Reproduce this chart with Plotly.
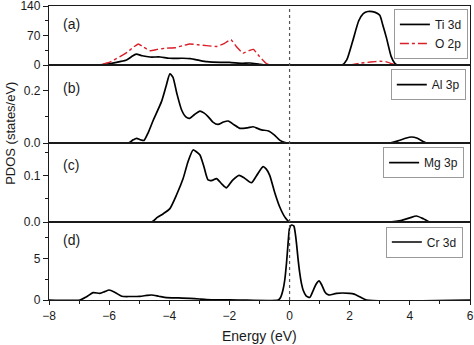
import plotly.graph_objects as go
from plotly.subplots import make_subplots

# ---------------- data ----------------
ti3d_E = [-8, -6.4, -6.0, -5.64, -5.42, -5.25, -5.1, -4.9, -4.64, -4.3, -4.0, -3.55, -3.3, -3.0,
          -2.75, -2.3, -2.0, -1.57, -1.32, -1.0, -0.8, 1.75, 1.9, 2.1, 2.3, 2.45, 2.6, 2.85, 3.0,
          3.1, 3.22, 3.38, 3.5, 3.6, 6]
ti3d_v = [0, 0, 3, 8, 12, 20, 26, 22, 19, 19, 16, 16, 15, 11,
          8, 6.3, 6.3, 4, 4.7, 1.6, 0, 0, 12, 57, 105, 122, 127, 125, 118,
          95, 65, 20, 4, 0, 0]

o2p_E = [-8, -6.35, -6.0, -5.64, -5.4, -5.2, -5.03, -4.85, -4.64, -4.4, -4.1, -3.8, -3.55, -3.32,
         -3.05, -2.76, -2.43, -2.2, -1.95, -1.75, -1.55, -1.35, -1.2, -1.0, -0.78, -0.65,
         2.0, 2.3, 2.7, 3.0, 3.2, 3.4, 3.55, 6]
o2p_v = [0, 0, 6, 20, 30, 42, 50, 42, 34, 37, 40, 41, 46, 50,
         48, 46, 44, 50, 60, 42, 28, 34, 37, 20, 4, 0,
         0, 4, 7, 9, 8, 3, 0, 0]

al3p_E = [-8, -5.36, -5.2, -5.09, -4.95, -4.84, -4.7, -4.53, -4.26, -4.1, -3.98, -3.88, -3.75, -3.59,
          -3.45, -3.32, -3.15, -2.98, -2.85, -2.71, -2.55, -2.38, -2.2, -2.04, -1.85, -1.65, -1.4,
          -1.21, -1.05, -0.93, -0.7, -0.5, -0.33, -0.15, -0.05, 3.33, 3.6, 3.85, 4.05, 4.25, 4.45,
          4.55, 6]
al3p_v = [0, 0, 0.012, 0.018, 0.012, 0.010, 0.04, 0.088, 0.158, 0.22, 0.264, 0.252, 0.19, 0.126,
          0.1, 0.094, 0.11, 0.122, 0.115, 0.101, 0.08, 0.071, 0.08, 0.084, 0.07, 0.056, 0.058,
          0.062, 0.055, 0.050, 0.046, 0.03, 0.011, 0.002, 0, 0, 0.008, 0.018, 0.023, 0.018, 0.005,
          0, 0]

mg3p_E = [-8, -4.59, -4.4, -4.2, -3.98, -3.75, -3.54, -3.38, -3.21, -3.1, -2.98, -2.85, -2.71,
          -2.57, -2.43, -2.25, -2.1, -1.9, -1.68, -1.5, -1.27, -1.1, -0.88, -0.78, -0.66, -0.5,
          -0.33, -0.15, 0, 3.33, 3.7, 4.0, 4.22, 4.45, 4.66, 6]
mg3p_v = [0, 0, 0.01, 0.018, 0.029, 0.06, 0.094, 0.13, 0.156, 0.152, 0.145, 0.12, 0.091,
          0.09, 0.094, 0.082, 0.074, 0.09, 0.101, 0.095, 0.085, 0.1, 0.120, 0.115, 0.101, 0.065,
          0.033, 0.01, 0, 0, 0.003, 0.009, 0.013, 0.007, 0, 0]

cr3d_E = [-8, -6.97, -6.75, -6.53, -6.31, -6.15, -6.0, -5.8, -5.58, -5.3, -4.98, -4.75, -4.59,
          -4.35, -4.09, -3.7, -3.32, -3.0, -2.76, -2.3, -1.7, -0.38, -0.3, -0.22, -0.16, -0.1,
          -0.05, 0.0, 0.06, 0.14, 0.19, 0.23, 0.28, 0.34, 0.4, 0.45, 0.55, 0.67, 0.78, 0.88, 0.98,
          1.07, 1.17, 1.27, 1.34, 1.56, 2.0, 2.15, 2.35, 2.56, 6]
cr3d_v = [0, 0, 0.4, 0.88, 0.8, 1.0, 1.2, 0.9, 0.45, 0.42, 0.44, 0.55, 0.6,
          0.45, 0.28, 0.25, 0.2, 0.12, 0.06, 0.02, 0, 0, 0.3, 1.2, 2.4, 4.5,
          6.8, 8.6, 9.0, 8.9, 8.0, 6.8, 5.0, 3.2, 1.9, 1.2, 0.5, 0.3, 1.1, 1.9, 2.3,
          1.8, 1.0, 0.65, 0.6, 0.8, 0.8, 0.7, 0.35, 0, 0]

panel_labels = ["(a)", "(b)", "(c)", "(d)"]
x_title = "Energy (eV)"
y_title = "PDOS (states/eV)"

# ---------------- figure ----------------
FONT = "Liberation Sans, Arial, sans-serif"
INK = "#1a1a1a"

fig = make_subplots(rows=4, cols=1, shared_xaxes=True, vertical_spacing=0,
                    row_heights=[59, 78, 79, 78])

blk = dict(color="black", width=1.7, shape="spline", smoothing=0.6)
fig.add_trace(go.Scatter(x=ti3d_E, y=ti3d_v, mode="lines", name="Ti 3d", line=blk,
                         legend="legend"), row=1, col=1)
fig.add_trace(go.Scatter(x=o2p_E, y=o2p_v, mode="lines", name="O 2p",
                         line=dict(color="rgb(218,30,40)", width=1.4, dash="dashdot",
                                   shape="spline", smoothing=0.3),
                         legend="legend"), row=1, col=1)
fig.add_trace(go.Scatter(x=al3p_E, y=al3p_v, mode="lines", name="Al 3p", line=blk,
                         legend="legend2"), row=2, col=1)
fig.add_trace(go.Scatter(x=mg3p_E, y=mg3p_v, mode="lines", name="Mg 3p", line=blk,
                         legend="legend3"), row=3, col=1)
fig.add_trace(go.Scatter(x=cr3d_E, y=cr3d_v, mode="lines", name="Cr 3d", line=blk,
                         legend="legend4"), row=4, col=1)

for r in range(1, 5):
    fig.update_xaxes(row=r, col=1, range=[-8, 6], showline=True, linecolor=INK, linewidth=1.3,
                     mirror=True, showgrid=False, zeroline=False, automargin=False,
                     ticks="outside" if r == 4 else "", ticklen=4, tickwidth=1.1,
                     tickcolor=INK, dtick=2, tick0=-8, showticklabels=(r == 4),
                     tickfont=dict(family=FONT, size=12, color=INK),
                     minor=dict(ticks="outside" if r == 4 else "", ticklen=3,
                                tickcolor=INK, dtick=1, tick0=-8))

yspecs = [
    dict(range=[0, 140.05], dtick=70, minor=35, fmt="d"),
    dict(range=[0, 0.298], dtick=0.2, minor=0.1, fmt=".1f"),
    dict(range=[0, 0.171], dtick=0.1, minor=0.05, fmt=".1f"),
    dict(range=[0, 9.36], dtick=5, minor=2.5, fmt="d"),
]
for r, s in enumerate(yspecs, start=1):
    fig.update_yaxes(row=r, col=1, range=s["range"], dtick=s["dtick"], tick0=0,
                     tickformat=s["fmt"], showline=True, linecolor=INK, linewidth=1.3,
                     mirror=True, showgrid=False, zeroline=False, ticks="outside",
                     automargin=False, ticklen=5, tickwidth=1.1, tickcolor=INK,
                     ticklabeloverflow="allow",
                     tickfont=dict(family=FONT, size=12, color=INK),
                     minor=dict(ticks="outside", ticklen=3, tickcolor=INK,
                                dtick=s["minor"], tick0=0))

# Fermi level dotted line
fig.add_shape(type="line", x0=0, x1=0, xref="x", y0=0, y1=1, yref="paper",
              line=dict(color="#555555", width=1.2, dash="dot"), layer="above")

# panel labels
for lab, yy in zip(panel_labels, [0.939, 0.721, 0.459, 0.204]):
    fig.add_annotation(text=lab, xref="paper", yref="paper", x=0.028, y=yy,
                       xanchor="left", yanchor="middle", showarrow=False,
                       font=dict(family=FONT, size=14, color=INK))

fig.add_annotation(text=y_title, xref="paper", yref="paper", x=-0.093, y=0.568,
                   textangle=-90, xanchor="center", yanchor="middle", showarrow=False,
                   font=dict(family=FONT, size=13, color=INK))
fig.add_annotation(text=x_title, xref="paper", yref="paper", x=0.5, y=-0.122,
                   xanchor="center", yanchor="middle", showarrow=False,
                   font=dict(family=FONT, size=14, color=INK))

leg = dict(bgcolor="white", bordercolor="#9a9a9a", borderwidth=1,
           font=dict(family=FONT, size=12, color=INK), xanchor="right", yanchor="top",
           tracegroupgap=0, itemwidth=30)
fig.update_layout(
    width=474, height=345, margin=dict(l=49, r=4, t=6, b=45, autoexpand=False),
    paper_bgcolor="white", plot_bgcolor="white", showlegend=True,
    legend=dict(leg, x=0.995, y=0.99),
    legend2=dict(leg, x=0.99, y=0.785),
    legend3=dict(leg, x=0.986, y=0.52),
    legend4=dict(leg, x=0.983, y=0.25),
)

fig.write_html("out.html")
